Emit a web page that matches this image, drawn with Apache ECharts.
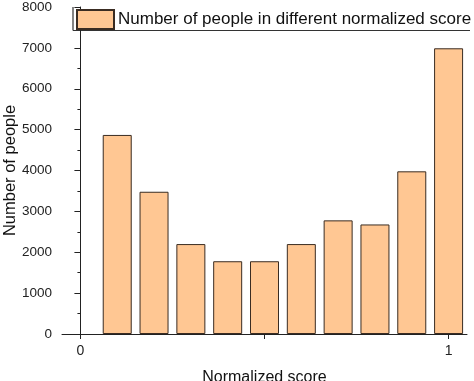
<!DOCTYPE html>
<html>
<head>
<meta charset="utf-8">
<script src="https://cdn.jsdelivr.net/npm/echarts@6/dist/echarts.min.js"></script>
<style>html,body{margin:0;padding:0;background:#fff}#c{width:474px;height:381px}</style>
</head>
<body>
<div id="c"></div>
<script>
const scores = [0.1, 0.2, 0.3, 0.4, 0.5, 0.6, 0.7, 0.8, 0.9, 1.0];
const counts = [4870, 3480, 2200, 1780, 1780, 2200, 2780, 2680, 3980, 6990];
const xTickValues = [0, 0.5, 1];
const xLabelValues = [0, 1];
const seriesName = 'Number of people in different normalized score';

const chart = echarts.init(document.getElementById('c'), null, {renderer: 'canvas'});
const font = 'Arial, "Liberation Sans", sans-serif';
chart.setOption({
  animation: false,
  backgroundColor: '#fff',
  grid: {left: 62, right: 7, top: 7, bottom: 47, containLabel: false, outerBoundsMode: 'none'},
  legend: {
    data: [seriesName],
    left: 76, top: 9,
    itemWidth: 37, itemHeight: 19, itemGap: 4,
    padding: 0,
    icon: 'rect',
    textStyle: {fontFamily: font, fontSize: 17, color: '#111', padding: [0,0,0,-1]}
  },
  graphic: [
    {type: 'line', shape: {x1: 73, y1: 7, x2: 73, y2: 30.5}, style: {stroke: '#333', lineWidth: 1.2}},
    {type: 'line', shape: {x1: 73, y1: 30.5, x2: 470, y2: 30.5}, style: {stroke: '#333', lineWidth: 1.2}}
  ],
  xAxis: {
    type: 'value', min: -0.05, max: 1.05,
    name: 'Normalized score', nameLocation: 'middle', nameGap: 36, nameMoveOverlap: false,
    nameTextStyle: {fontFamily: font, fontSize: 16, color: '#111'},
    axisLine: {show: true, lineStyle: {color: '#222', width: 1}},
    axisTick: {show: true, length: 5, customValues: xTickValues, lineStyle: {color: '#222'}},
    axisLabel: {customValues: xLabelValues, margin: 10, fontFamily: font, fontSize: 14, color: '#222',
      formatter: v => String(Math.round(v))},
    splitLine: {show: false}
  },
  yAxis: {
    type: 'value', min: 0, max: 8000, interval: 1000,
    name: 'Number of people', nameLocation: 'middle', nameGap: 43, nameMoveOverlap: false,
    nameTextStyle: {fontFamily: font, fontSize: 16.5, color: '#111'},
    axisLine: {show: true, lineStyle: {color: '#222', width: 1}},
    axisTick: {show: true, length: 6, lineStyle: {color: '#222'}},
    minorTick: {show: true, splitNumber: 2, length: 3, lineStyle: {color: '#222'}},
    axisLabel: {margin: 10, fontFamily: font, fontSize: 13.5, color: '#222', formatter: v => String(v)},
    splitLine: {show: false}
  },
  series: [{
    name: seriesName,
    type: 'bar',
    barWidth: 29,
    data: scores.map((s, i) => [s, counts[i]]),
    itemStyle: {color: '#FFC793', borderColor: '#3a2c22', borderWidth: 1}
  }]
});
</script>
</body>
</html>
